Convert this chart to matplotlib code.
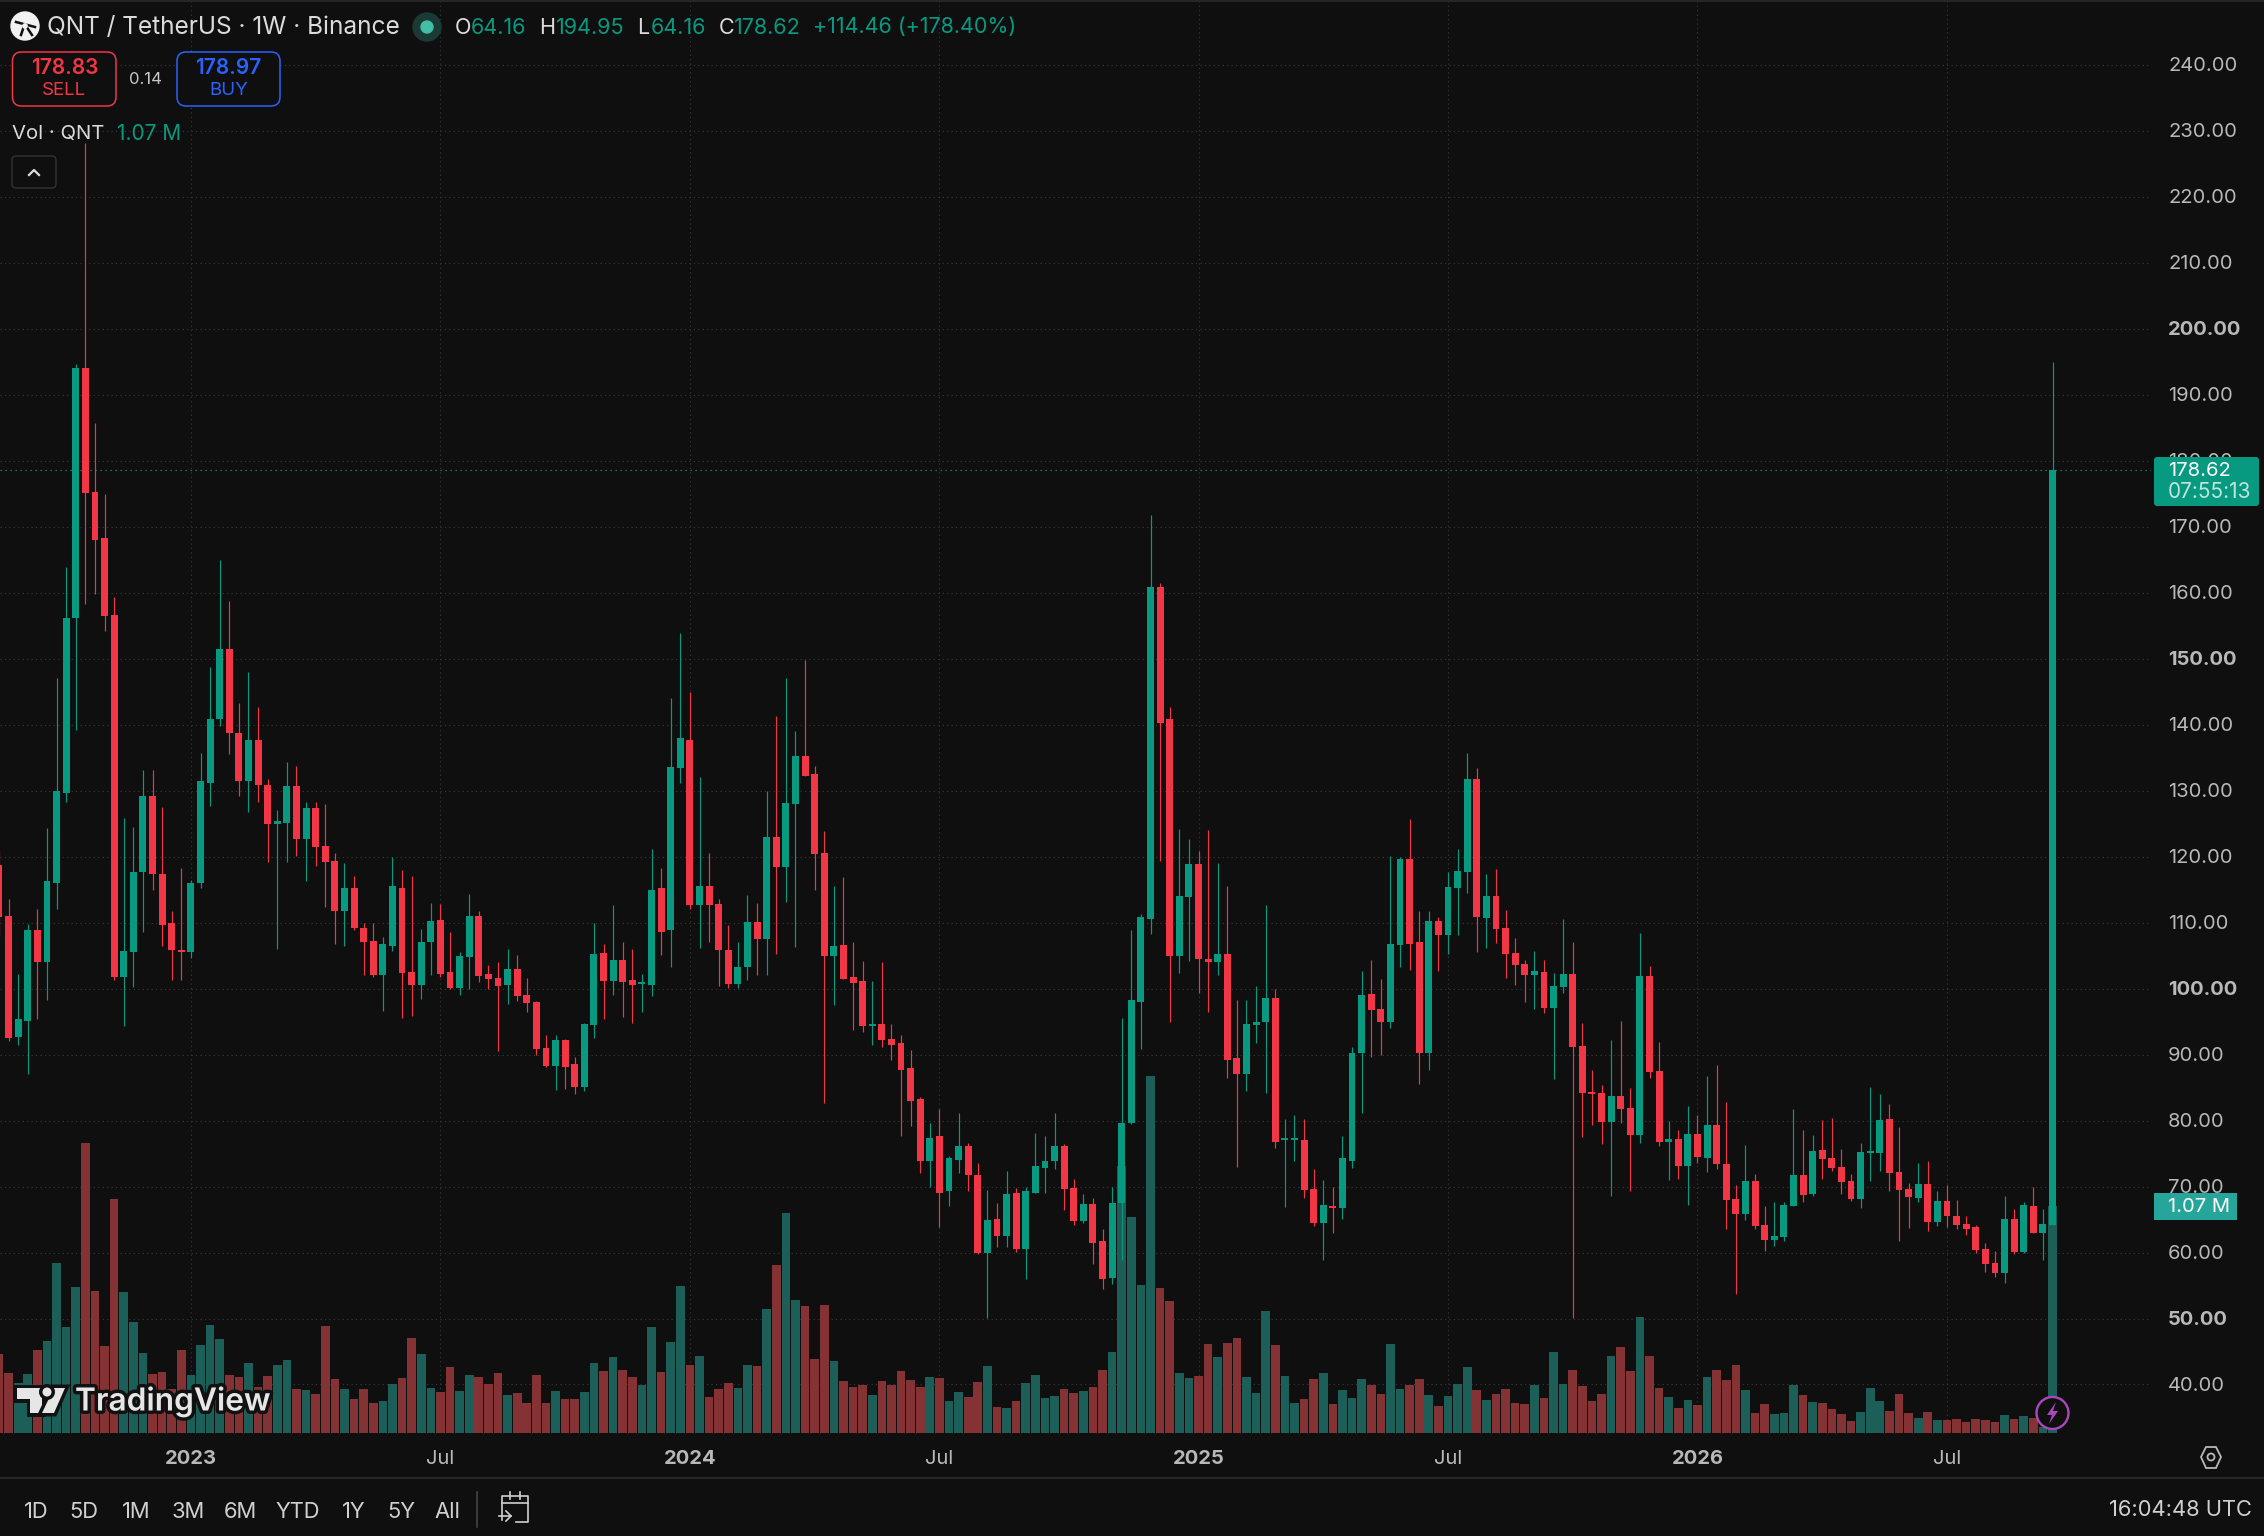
import numpy as np
import pandas as pd
import matplotlib
matplotlib.use("Agg")
import matplotlib.pyplot as plt
import matplotlib.patheffects as pe
from matplotlib.patches import Circle, FancyBboxPatch, Polygon, Rectangle

plt.rcParams["font.family"] = ["Inter", "DejaVu Sans"]

# weekly candles, QNT/USDT
opens = [
    118.7, 111.0, 92.7, 95.1, 108.9, 104.0, 116.0, 129.7, 156.1, 194.0,
    175.3, 168.2, 156.6, 101.8, 105.6, 117.7, 129.2, 117.3, 109.9, 105.9,
    105.6, 116.0, 131.2, 140.8, 151.5, 138.8, 131.5, 137.7, 130.9, 124.9,
    125.1, 130.7, 122.7, 127.4, 121.6, 119.3, 111.8, 115.3, 109.1, 107.2,
    102.1, 106.4, 115.3, 102.5, 100.6, 107.0, 110.4, 102.5, 100.1, 104.8,
    111.0, 102.2, 101.6, 100.6, 102.9, 99.0, 98.0, 91.0, 88.3, 92.2,
    88.5, 85.1, 94.5, 105.4, 101.1, 104.3, 101.3, 100.65, 100.6, 115.2,
    108.8, 133.4, 137.7, 112.65, 115.6, 112.85, 105.9, 100.75, 103.3, 110.1,
    107.5, 122.9, 118.4, 128.0, 135.2, 132.5, 120.5, 104.9, 106.55, 101.7,
    101.1, 94.4, 94.7, 92.3, 91.7, 87.9, 83.2, 73.9, 77.6, 69.3,
    74.05, 76.2, 71.8, 60.0, 65.1, 62.5, 69.0, 60.6, 69.0, 72.8,
    73.9, 76.2, 69.8, 64.8, 67.4, 61.8, 56.2, 67.5, 79.7, 98.0,
    110.6, 160.8, 140.8, 104.9, 113.85, 118.8, 104.5, 104.0, 105.2, 89.4,
    87.0, 94.5, 94.9, 98.5, 77.0, 77.0, 77.1, 69.7, 64.5, 67.1,
    66.8, 73.9, 90.2, 99.1, 96.96, 95.0, 106.55, 119.6, 107.0, 90.3,
    110.3, 108.05, 115.2, 117.6, 131.75, 110.7, 114.0, 109.1, 105.4, 103.7,
    102.0, 102.5, 97.0, 100.2, 102.2, 91.3, 84.3, 84.2, 79.8, 83.7,
    81.9, 77.8, 101.9, 87.5, 76.7, 77.2, 73.1, 78.0, 74.3, 79.3,
    73.4, 68.1, 65.85, 70.85, 64.2, 61.9, 62.3, 67.0, 71.7, 68.9,
    75.6, 74.3, 73.0, 70.9, 68.1, 75.1, 75.1, 80.2, 72.2, 69.6,
    68.3, 70.4, 64.6, 67.8, 65.5, 64.3, 63.9, 60.5, 58.4, 56.9,
    65.05, 60.1, 67.0, 62.9, 64.16,
]
closes = [
    110.9, 92.5, 95.4, 108.8, 103.95, 116.3, 129.9, 156.2, 194.0, 175.1,
    167.9, 156.4, 101.8, 105.7, 117.7, 129.2, 117.3, 109.6, 105.9, 105.6,
    116.0, 131.5, 140.9, 151.5, 138.8, 131.5, 137.7, 130.9, 124.9, 125.4,
    130.7, 122.7, 127.3, 121.45, 119.2, 111.8, 115.3, 109.1, 107.0, 102.1,
    106.7, 115.5, 102.4, 100.6, 107.0, 110.2, 102.2, 100.1, 105.0, 111.0,
    101.9, 101.4, 100.4, 102.9, 98.9, 97.85, 90.9, 88.3, 92.2, 88.1,
    85.1, 94.7, 105.3, 101.1, 104.3, 101.0, 100.6, 100.85, 115.0, 108.6,
    133.6, 137.9, 112.65, 115.5, 112.65, 105.9, 100.75, 103.3, 110.1, 107.5,
    122.9, 118.4, 128.1, 135.2, 132.2, 120.4, 104.9, 106.4, 101.5, 100.9,
    94.4, 94.7, 92.2, 91.5, 87.7, 82.9, 73.9, 77.4, 69.0, 74.3,
    76.2, 71.7, 60.0, 65.0, 62.5, 68.9, 60.6, 69.3, 73.05, 73.9,
    76.2, 69.7, 64.8, 67.4, 61.5, 56.0, 67.5, 79.7, 98.3, 110.8,
    160.8, 140.3, 104.9, 114.0, 118.8, 104.5, 104.0, 105.2, 89.2, 87.0,
    94.7, 95.0, 98.5, 76.8, 77.1, 77.1, 69.5, 64.5, 67.25, 66.7,
    74.3, 90.3, 99.0, 96.8, 94.9, 106.7, 119.6, 106.8, 90.3, 110.3,
    108.05, 115.4, 117.8, 131.75, 110.8, 114.0, 109.0, 105.2, 103.6, 102.0,
    102.6, 97.0, 100.4, 102.2, 91.1, 84.2, 84.0, 79.8, 83.7, 81.7,
    77.8, 101.9, 87.4, 76.7, 77.2, 73.1, 78.0, 74.4, 79.3, 73.4,
    68.0, 65.85, 70.85, 64.0, 61.9, 62.5, 67.2, 71.7, 68.7, 75.4,
    74.1, 72.8, 70.7, 68.1, 75.3, 75.3, 80.1, 72.0, 69.5, 68.4,
    70.4, 64.6, 67.8, 65.5, 64.2, 63.6, 60.4, 58.2, 56.9, 65.05,
    60.1, 67.2, 62.9, 64.3, 178.62,
]
highs = [
    121.0, 113.6, 102.2, 109.75, 112.1, 124.35, 147.1, 163.9, 194.7, 228.1,
    185.7, 175.0, 159.4, 125.9, 124.5, 133.1, 133.1, 127.5, 111.7, 118.2,
    116.5, 135.7, 148.8, 165.0, 158.7, 143.3, 148.0, 142.7, 131.8, 127.0,
    134.4, 133.7, 128.3, 128.3, 128.0, 120.6, 119.0, 117.0, 110.0, 110.0,
    107.8, 120.0, 118.0, 117.0, 109.0, 113.0, 112.8, 108.5, 105.6, 114.3,
    111.7, 103.6, 104.0, 106.0, 105.1, 101.6, 98.1, 93.0, 93.0, 92.3,
    89.6, 94.8, 110.0, 106.75, 112.6, 107.0, 106.0, 102.2, 121.1, 118.2,
    144.0, 153.9, 145.0, 132.1, 120.6, 113.6, 109.6, 107.1, 114.2, 113.0,
    129.9, 141.3, 147.1, 139.0, 149.8, 133.7, 123.8, 115.5, 116.9, 107.0,
    104.1, 101.1, 104.0, 94.7, 92.9, 90.7, 83.5, 79.7, 81.8, 74.7,
    81.2, 76.6, 73.6, 69.4, 67.5, 72.4, 69.8, 69.9, 78.1, 77.7,
    81.1, 76.5, 71.2, 68.9, 68.3, 63.5, 70.0, 95.6, 108.9, 111.3,
    171.7, 161.5, 142.6, 124.2, 122.6, 120.9, 124.0, 119.0, 115.6, 98.2,
    98.3, 100.4, 112.6, 99.9, 80.3, 80.9, 80.3, 72.7, 71.0, 70.0,
    77.7, 91.2, 102.6, 104.3, 101.4, 120.15, 120.0, 125.7, 111.7, 111.7,
    110.8, 117.6, 121.2, 135.7, 133.4, 117.4, 118.1, 111.9, 107.6, 104.3,
    105.7, 104.3, 102.3, 110.5, 107.0, 94.8, 87.7, 85.4, 92.2, 95.1,
    84.9, 108.4, 103.4, 91.9, 80.0, 78.6, 82.2, 80.8, 86.75, 88.4,
    82.8, 70.2, 76.3, 71.9, 67.0, 67.6, 67.6, 81.7, 78.6, 77.8,
    80.1, 80.4, 75.7, 71.9, 76.6, 85.1, 84.0, 82.5, 79.0, 70.55,
    73.6, 73.9, 69.3, 70.2, 68.0, 65.5, 64.2, 61.5, 60.2, 68.6,
    66.6, 67.6, 69.9, 66.6, 194.95,
]
lows = [
    108.0, 92.05, 91.5, 87.0, 95.4, 98.3, 112.0, 128.3, 139.2, 158.3,
    159.75, 154.2, 101.3, 94.4, 100.3, 108.5, 115.0, 106.4, 101.3, 101.3,
    104.7, 115.3, 127.7, 139.8, 135.5, 129.2, 126.7, 128.3, 119.2, 106.0,
    119.2, 120.1, 116.3, 118.6, 112.3, 106.7, 106.5, 108.8, 102.1, 101.8,
    96.6, 105.7, 95.5, 95.9, 98.4, 102.0, 101.8, 100.0, 99.0, 100.0,
    101.0, 99.9, 90.6, 97.6, 98.1, 96.5, 90.0, 88.1, 84.6, 84.8,
    84.0, 84.4, 92.5, 95.4, 99.0, 95.7, 94.8, 96.5, 98.8, 105.1,
    103.2, 131.1, 112.0, 106.2, 107.0, 100.4, 100.1, 100.1, 101.3, 102.1,
    102.1, 105.2, 113.1, 106.3, 132.2, 114.9, 82.6, 97.5, 101.5, 93.7,
    93.4, 91.5, 91.2, 89.2, 77.7, 79.1, 72.1, 70.0, 63.9, 67.0,
    72.1, 69.3, 59.7, 50.1, 60.9, 60.9, 60.1, 56.0, 69.0, 69.0,
    72.7, 66.5, 64.2, 64.4, 58.2, 54.5, 55.3, 58.9, 79.4, 90.8,
    108.2, 119.3, 95.0, 102.3, 104.1, 99.3, 96.5, 102.0, 86.4, 72.9,
    84.4, 91.8, 84.1, 75.9, 66.9, 73.9, 68.3, 64.0, 58.8, 62.9,
    65.1, 72.8, 81.2, 89.7, 90.0, 94.0, 103.2, 102.8, 85.6, 87.7,
    102.6, 105.2, 108.05, 114.5, 105.5, 106.1, 106.9, 101.6, 100.5, 97.9,
    96.9, 96.3, 86.3, 99.3, 50.1, 77.5, 79.3, 76.4, 68.6, 79.6,
    69.3, 76.6, 86.4, 76.2, 71.0, 71.1, 67.2, 73.6, 72.2, 72.65,
    63.6, 53.7, 65.0, 63.5, 60.2, 61.0, 61.8, 67.0, 67.6, 68.6,
    71.1, 72.3, 68.9, 67.8, 66.7, 70.9, 72.3, 69.3, 61.8, 63.7,
    67.6, 63.3, 64.0, 63.9, 63.6, 62.6, 59.9, 57.1, 56.3, 55.4,
    59.7, 59.9, 62.9, 58.9, 64.16,
]
# volume in thousands of QNT
volumes = [
    373, 283, 236, 278, 391, 434, 802, 500, 689, 1368,
    670, 410, 1104, 665, 523, 377, 278, 288, 208, 391,
    274, 415, 509, 443, 274, 264, 330, 217, 269, 321,
    344, 208, 203, 184, 505, 255, 208, 160, 208, 141,
    151, 231, 259, 448, 373, 212, 193, 311, 198, 274,
    264, 231, 283, 179, 189, 141, 274, 141, 198, 160,
    160, 193, 330, 292, 358, 297, 264, 226, 500, 288,
    429, 693, 321, 363, 170, 208, 236, 212, 321, 316,
    585, 792, 1038, 627, 599, 349, 604, 340, 245, 217,
    226, 179, 245, 226, 292, 250, 217, 264, 259, 151,
    193, 170, 241, 316, 123, 118, 151, 236, 274, 165,
    174, 208, 189, 198, 217, 297, 382, 1259, 1019, 698,
    1684, 684, 623, 283, 259, 269, 420, 358, 424, 448,
    264, 189, 575, 415, 269, 141, 160, 255, 283, 137,
    203, 165, 255, 226, 184, 420, 208, 226, 255, 179,
    127, 174, 231, 311, 203, 156, 184, 208, 141, 137,
    226, 165, 382, 231, 297, 222, 151, 184, 363, 406,
    292, 547, 363, 212, 170, 118, 156, 132, 264, 297,
    250, 321, 203, 94, 137, 90, 94, 226, 179, 146,
    141, 113, 90, 57, 99, 212, 151, 104, 184, 94,
    71, 99, 61, 61, 66, 52, 66, 61, 52, 85,
    66, 80, 71, 30, 1070,
]
price_ticks = list(range(40, 250, 10))
bold_prices = [50, 100, 150, 200]
tick_dates = ["2023-01-02", "2023-07-03", "2024-01-01", "2024-07-01",
              "2025-01-06", "2025-07-07", "2026-01-05", "2026-07-06"]
tick_labels = ["2023", "Jul", "2024", "Jul", "2025", "Jul", "2026", "Jul"]
range_buttons = ["1D", "5D", "1M", "3M", "6M", "YTD", "1Y", "5Y", "All"]

BG = "#0F0F0F"
GREEN = "#089981"
RED = "#F23645"
GRID = "#3A3A3A"
TXT = "#B8B8B8"
W, H = 2264, 1536
PANE_R, PANE_B = 2151, 1433

dates = pd.date_range("2022-08-15", periods=len(opens), freq="W-MON")
x = np.arange(len(opens))
o, c, hi, lo, vol = map(np.array, (opens, closes, highs, lows, volumes))
up = c >= o
tick_x = [dates.get_loc(pd.Timestamp(d)) for d in tick_dates]

fig = plt.figure(figsize=(W / 100, H / 100), dpi=100, facecolor=BG)
rect = [0, 1 - PANE_B / H, PANE_R / W, PANE_B / H]

# volume pane sits under the candles and shares the x range
ax_vol = fig.add_axes(rect, facecolor=BG)
ax = fig.add_axes(rect, facecolor="none")
xlim = (0.104, 224.26)
for a in (ax, ax_vol):
    a.set_xlim(xlim)
    for s in a.spines.values():
        s.set_visible(False)
    a.set_xticks([])
    a.set_yticks([])
ax.set_ylim(32.65, 249.8)
ax_vol.set_ylim(0, 6759)

dots = (0, (1, 3))
ax_vol.hlines(price_ticks, *xlim, color=GRID, lw=0.8, ls=dots, zorder=1, transform=ax.transData)
ax_vol.vlines(tick_x, 0, 6759, color=GRID, lw=0.8, ls=dots, zorder=1)

ax_vol.bar(x, vol, width=0.9, color=np.where(up, "#1C5E58", "#843234"), zorder=2)

ax.axhline(closes[-1], color=GREEN, lw=0.9, ls=dots, zorder=1)
colors = np.where(up, GREEN, RED)
ax.vlines(x, lo, hi, color=colors, lw=0.85, zorder=3)
ax.bar(x, np.maximum(np.abs(c - o), 0.3), bottom=np.minimum(o, c), width=0.72,
       color=colors, zorder=4)

# everything around the chart is placed in screen pixels
ui = fig.add_axes([0, 0, 1, 1], facecolor="none", zorder=5)
ui.set_xlim(0, W)
ui.set_ylim(H, 0)
ui.axis("off")

def label(px, py, s, color=TXT, size=14.5, weight="normal", ha="left", **kw):
    return ui.text(px, py + 1.5, s, color=color, fontsize=size, fontweight=weight,
                   ha=ha, va="center", **kw)

# price scale
for p in price_ticks:
    yp = 1384.5 - (p - 40) * 6.6
    label(2168, yp, f"{p:.2f}", weight="bold" if p in bold_prices else "normal")

# time scale
for tx, t in zip(tick_x, tick_labels):
    px = -1 + tx * 9.596
    label(px, 1458, t, ha="center", weight="normal" if t == "Jul" else "bold")

ui.plot([0, W], [1478, 1478], color="#2E2E2E", lw=1.2)
ui.plot([0, W], [1, 1], color="#2A2A2A", lw=1.2)

# header
ui.add_patch(Circle((25, 26), 14, color="#F2F2F2"))
ui.plot([16, 35], [22, 27], color=BG, lw=1.8)
ui.plot([24, 21], [26, 35], color=BG, lw=1.8)
ui.plot([26, 32], [26, 35], color=BG, lw=1.8)
ui.add_patch(Circle((25, 26), 2.2, color="#F2F2F2", zorder=3))
label(47, 26, "QNT / TetherUS · 1W · Binance", color="#DBDBDB", size=17.6)
ui.add_patch(Circle((427, 27), 14, color="#1B3A35"))
ui.add_patch(Circle((427, 27), 6, color="#42BDA8"))
for px, key, val, gap in [(455, "O", "64.16", 16), (539, "H", "194.95", 17),
                          (637, "L", "64.16", 14), (719, "C", "178.62", 15)]:
    label(px, 26, key, color="#DBDBDB", size=15.5)
    label(px + gap, 26, val, color=GREEN, size=15.5)
label(813, 26, "+114.46 (+178.40%)", color=GREEN, size=15.5)

def trade_box(x0, x1, price, side, col):
    box = FancyBboxPatch((x0 + 8, 60), x1 - x0 - 16, 38,
                         boxstyle="round,pad=8,rounding_size=9", fc=BG, ec=col, lw=1.1)
    ui.add_patch(box)
    label((x0 + x1) / 2, 67, price, color=col, size=15, weight="semibold", ha="center")
    label((x0 + x1) / 2, 89, side, color=col, size=13.5, ha="center")

trade_box(12.5, 116, "178.83", "SELL", RED)
trade_box(177, 280, "178.97", "BUY", "#2962FF")
label(129, 78, "0.14", color="#C8C8C8", size=12)
label(12, 132, "Vol · QNT", color="#DBDBDB", size=14.6)
label(117, 132, "1.07 M", color=GREEN, size=15)

ui.add_patch(FancyBboxPatch((16, 160), 36, 24, boxstyle="round,pad=4,rounding_size=4",
                            fc=BG, ec="#333333", lw=1))
ui.plot([29, 34, 39], [175, 170, 175], color="#DDDDDD", lw=1.6)

# last price and last volume tags, drawn over the 180.00 scale label
ui.add_patch(FancyBboxPatch((2156, 459), 101, 45, boxstyle="round,pad=2,rounding_size=3",
                            fc=GREEN, ec=GREEN, lw=0, zorder=4))
label(2168, 469, "178.62", color="white", size=14.5, zorder=5)
label(2168, 491, "07:55:13", color="#BFE5DC", size=15, zorder=5)
ui.add_patch(Rectangle((2154, 1193), 83, 27, fc="#26A69A", ec="none", zorder=4))
label(2168, 1205, "1.07 M", color="white", size=14.5, zorder=5)

# watermark
halo = [pe.withStroke(linewidth=5, foreground="#111111")]
wm = "#E6E6E6"
logo = [Polygon([(17, 1388), (42, 1388), (42, 1413), (30, 1413), (30, 1399), (17, 1399)], fc=wm),
        Polygon([(54, 1388), (65, 1388), (54, 1413), (42, 1413)], fc=wm),
        Circle((47, 1392), 4.5, fc=wm)]
for shape in logo:
    shape.set_path_effects(halo)
    ui.add_patch(shape)
label(75, 1400, "TradingView", color=wm, size=22.8, weight="semibold", path_effects=halo)

# lightning marker on the last bar
ui.add_patch(Circle((2052.5, 1413), 16, fc=BG, ec="#AB47BC", lw=1.7))
ui.add_patch(Polygon([(2056, 1402), (2047, 1415), (2052, 1415), (2049, 1424),
                      (2058, 1411), (2053, 1411)], fc="#AB47BC"))

# settings icon
ui.add_patch(Polygon([(2201, 1457), (2206, 1447), (2216, 1447), (2221, 1457),
                      (2216, 1468), (2206, 1468)], fc="none", ec="#B8B8B8", lw=1.3))
ui.add_patch(Circle((2211, 1457), 3.5, fc="none", ec="#B8B8B8", lw=1.3))

# bottom toolbar
for px, t in zip([36, 84, 136, 188, 240, 298, 354, 401, 447], range_buttons):
    label(px, 1510, t, color="#D0D0D0", size=15.8, ha="center")
ui.plot([477, 477], [1492, 1527], color="#444444", lw=1.2)
ui.plot([502, 502, 528, 528, 516], [1520, 1496, 1496, 1522, 1522], color="#D0D0D0", lw=1.2)
ui.plot([502, 528], [1503, 1503], color="#D0D0D0", lw=1.2)
ui.plot([510, 510], [1492, 1499], color="#D0D0D0", lw=1.2)
ui.plot([520, 520], [1492, 1499], color="#D0D0D0", lw=1.2)
ui.plot([499, 511], [1516, 1516], color="#D0D0D0", lw=1.2)
ui.plot([506, 511, 506], [1511, 1516, 1521], color="#D0D0D0", lw=1.2)
label(2252, 1509, "16:04:48 UTC", color="#D0D0D0", size=15.8, ha="right")

fig.savefig("out.png", dpi=100, facecolor=BG)
